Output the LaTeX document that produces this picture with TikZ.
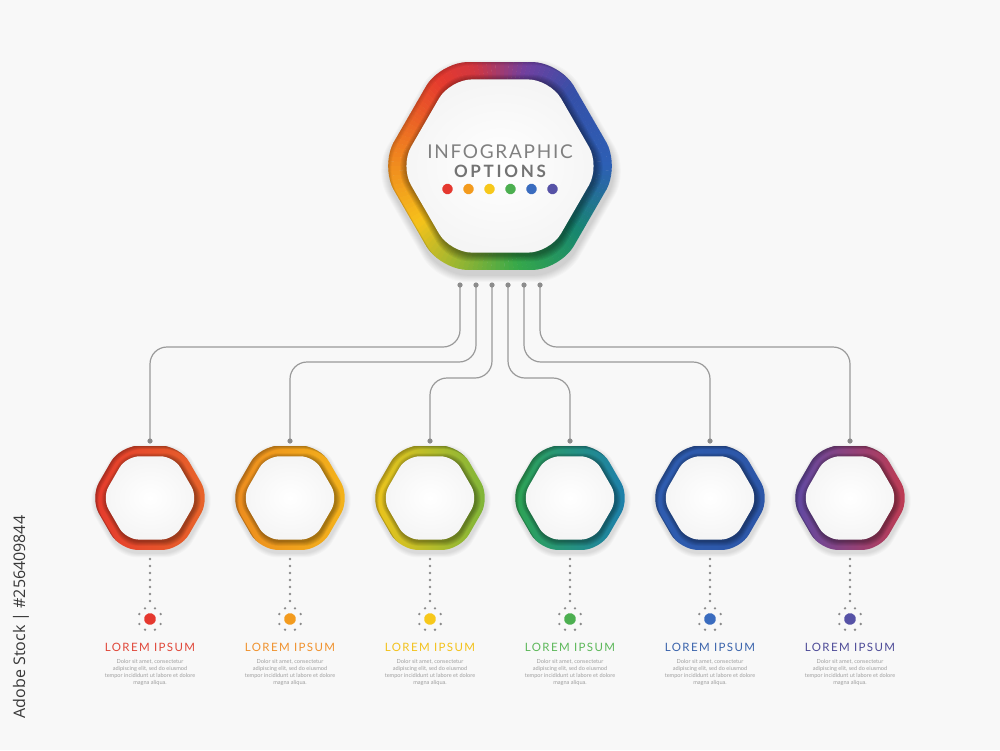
\documentclass[tikz,border=0pt]{standalone}
\usepackage{fontspec}
\setmainfont{Lato}
\newfontfamily\latofont{Lato}
\newfontfamily\infofont{Lato}[LetterSpace=9]
\newfontfamily\optfont{Lato}[LetterSpace=16]
\newfontfamily\labfont{Lato}[LetterSpace=12]
\newfontfamily\wmfont{Open Sans}
\usetikzlibrary{calc}

\definecolor{bgc}{HTML}{F8F8F8}
\definecolor{rBlue}{HTML}{2D5FB5}
\definecolor{rIndigo}{HTML}{3550A8}
\definecolor{rPurple}{HTML}{7040A0}
\definecolor{rMagenta}{HTML}{D2363F}
\definecolor{rRed}{HTML}{E53A2E}
\definecolor{rOrange}{HTML}{F0851F}
\definecolor{rYellow}{HTML}{F6C21A}
\definecolor{rGreen}{HTML}{36A84A}
\definecolor{rTeal}{HTML}{17866F}

\definecolor{hA1}{HTML}{E5392D}\definecolor{hB1}{HTML}{E7662A}
\definecolor{hA2}{HTML}{EC8A1F}\definecolor{hB2}{HTML}{F4B51B}
\definecolor{hA3}{HTML}{F4C51A}\definecolor{hB3}{HTML}{78B43B}
\definecolor{hA4}{HTML}{2FA64E}\definecolor{hB4}{HTML}{1C7DB0}
\definecolor{hA5}{HTML}{2F5DB0}\definecolor{hB5}{HTML}{2C55A6}
\definecolor{hA6}{HTML}{5A4AA8}\definecolor{hB6}{HTML}{C43A4D}

\definecolor{L1}{HTML}{E0483A}\definecolor{L2}{HTML}{F0922E}
\definecolor{L3}{HTML}{F3C21C}\definecolor{L4}{HTML}{5DB85A}
\definecolor{L5}{HTML}{3B64AC}\definecolor{L6}{HTML}{4E4C98}

\definecolor{D1}{HTML}{E5382F}\definecolor{D2}{HTML}{F39B1E}
\definecolor{D3}{HTML}{F7C81B}\definecolor{D4}{HTML}{4CAF50}
\definecolor{D5}{HTML}{3A6CBF}\definecolor{D6}{HTML}{5652A6}

\definecolor{lineGray}{HTML}{9A9A9A}
\definecolor{dotGray}{HTML}{8C8C8C}

\newcommand\hexpath[3]{({#1},{#2-0.8660254*(#3)}) -- ({#1+0.5*(#3)},{#2-0.8660254*(#3)}) -- ({#1+(#3)},{#2}) -- ({#1+0.5*(#3)},{#2+0.8660254*(#3)}) -- ({#1-0.5*(#3)},{#2+0.8660254*(#3)}) -- ({#1-(#3)},{#2}) -- ({#1-0.5*(#3)},{#2-0.8660254*(#3)}) -- cycle}

\newcommand\smallhex[4]{%
  \foreach \k in {1,...,5}{\fill[black,opacity=0.025,rounded corners=18] \hexpath{#1+1}{#2+3}{60+\k};}
  \begin{scope}
    \clip[rounded corners=18] \hexpath{#1}{#2}{60};
    \shade[left color=#3,right color=#4] (#1-62,#2-56) rectangle (#1+62,#2+56);
    \foreach \k in {1,...,4}{\fill[black,opacity=0.07,rounded corners=18,even odd rule] (#1-80,#2-80) rectangle (#1+80,#2+80) \hexpath{#1+0.8*\k}{#2+0.8*\k}{60};}
    \foreach \k in {1,...,6}{\fill[black,opacity=0.06,rounded corners=13] \hexpath{#1+1.2}{#2+1.5}{48+\k*0.9};}
    \shade[inner color=white,outer color=black!4,rounded corners=13] \hexpath{#1}{#2}{48};
  \end{scope}
}

\begin{document}
\begin{tikzpicture}[x=1pt,y=-1pt,
  conn/.style={draw=lineGray,line width=1.2pt},
  cdot/.style={fill=dotGray},
  smalldot/.style={fill=dotGray}]
\useasboundingbox (0,0) rectangle (1000,750);
\fill[bgc] (0,0) rectangle (1000,750);

% named points
\coordinate (main) at (500,166);
\foreach \i/\tx/\bx/\ky in {1/460/150/347,2/476/290/362,3/492/430/378,4/508/570/378,5/524/710/362,6/540/850/347}{
  \coordinate (t\i) at (\tx,285);
  \coordinate (b\i) at (\bx,441);
  \coordinate (k\i) at (\bx,\ky);
  \coordinate (h\i) at (\bx,498);
}

% connectors
\foreach \i in {1,...,6}{
  \draw[conn,rounded corners=17] (t\i) |- (k\i) -- (b\i);
  \fill[cdot] (t\i) circle (2.6);
  \fill[cdot] (b\i) circle (2.6);
}

% central hexagon
\foreach \k in {1,...,8}{\fill[black,opacity=0.02,rounded corners=28] \hexpath{501}{171}{120+\k};}
\begin{scope}
  \clip[rounded corners=28] \hexpath{500}{166}{120};
  \foreach \a/\b/\ca/\cb in {0/45/rBlue/rIndigo,45/75/rIndigo/rPurple,75/105/rPurple/rMagenta,105/125/rMagenta/rRed,125/175/rRed/rOrange,175/215/rOrange/rYellow,215/280/rYellow/rGreen,280/320/rGreen/rTeal,320/360/rTeal/rBlue}{
    \pgfmathtruncatemacro\nn{(\b-\a)/2.5-1}
    \foreach \i in {0,...,\nn}{
      \pgfmathsetmacro\ang{\a+2.5*\i}
      \pgfmathsetmacro\p{100*(\i+0.5)/(\nn+1)}
      \colorlet{wc}{\cb!\p!\ca}
      \fill[wc] (main) -- +(-\ang:175) -- +(-\ang-2.7:175) -- cycle;
    }
  }
  \foreach \k in {1,...,4}{\fill[black,opacity=0.04,rounded corners=28,even odd rule] (350,0) rectangle (650,330) \hexpath{500+0.8*\k}{166+0.8*\k}{120};}
  \foreach \k in {1,...,7}{\fill[black,opacity=0.06,rounded corners=22] \hexpath{501.5}{168}{100+\k*1.1};}
  \shade[inner color=white,outer color=black!4,rounded corners=22] \hexpath{500}{166}{100};
\end{scope}

\node[font=\infofont\fontsize{19}{19}\selectfont,text=black!50,inner sep=0] (info) at (500,152) {INFOGRAPHIC};
\node[font=\optfont\bfseries\fontsize{17}{17}\selectfont,text=black!55,inner sep=0] (opt) at (500,171) {OPTIONS};
\foreach \c [count=\j from 0] in {D1,D2,D3,D4,D5,D6}{
  \fill[\c,rounded corners=1.5] \hexpath{447.5+21*\j}{189}{5.8};
}

% small hexagons, dotted lines, markers, labels
\foreach \i/\x in {1/150,2/290,3/430,4/570,5/710,6/850}{
  \smallhex{\x}{498}{hA\i}{hB\i}
  \foreach \d in {0,...,6}{\fill[smalldot] (\x,559+7*\d) circle (1.3);}
  \fill[D\i,rounded corners=2] \hexpath{\x}{619}{6.6};
  \foreach \an in {25,65,115,155,205,245,295,335}{\fill[smalldot] ($(\x,619)+(\an:11.8)$) circle (1.3);}
  \node[font=\labfont\fontsize{11.5}{12}\selectfont,text=L\i,inner sep=0] (l\i) at (\x,647) {LOREM IPSUM};
  \node[font=\latofont\fontsize{5.6}{7}\selectfont,text=black!38,align=center,anchor=north,inner sep=0] (d\i) at (\x,659) {Dolor sit amet, consectetur\\adipiscing elit, sed do eiusmod\\tempor incididunt ut labore et dolore\\magna aliqua.};
}

% stock id at the left edge
\node[font=\wmfont\fontsize{16}{16}\selectfont,text=black!78,rotate=90,inner sep=0] (wm) at (21,617) {Adobe Stock | \#256409844};
\end{tikzpicture}
\end{document}
